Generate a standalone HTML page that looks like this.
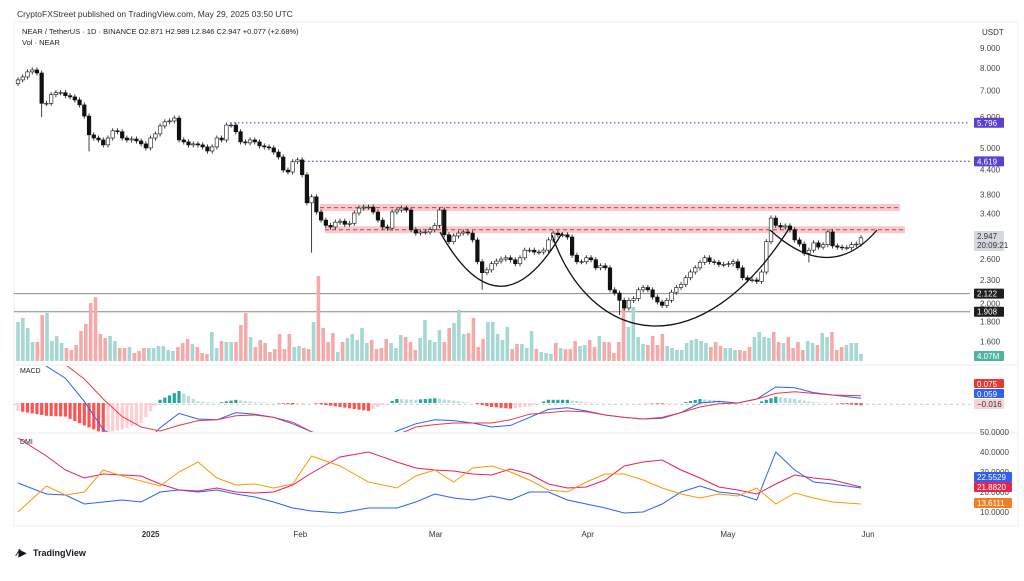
<!DOCTYPE html>
<html><head><meta charset="utf-8"><style>
body{margin:0;background:#fff;font-family:"Liberation Sans",sans-serif;}
svg text{font-family:"Liberation Sans",sans-serif;}
</style></head><body>
<svg id="c" width="1024" height="576" viewBox="0 0 1024 576">
<rect width="1024" height="576" fill="#fff"/>
<rect x="14" y="22" width="1004" height="504" fill="none" stroke="#eceef2" stroke-width="1"/>
<line x1="14" y1="365" x2="1018" y2="365" stroke="#eceef2"/>
<line x1="14" y1="433" x2="1018" y2="433" stroke="#eceef2"/>
<text x="17" y="17" font-size="8.5" fill="#333">CryptoFXStreet published on TradingView.com, May 29, 2025 03:50 UTC</text>
<text x="22" y="34" font-size="7.5" fill="#222">NEAR / TetherUS · 1D · BINANCE  O2.871  H2.989  L2.846  C2.947  +0.077 (+2.68%)</text>
<text x="22" y="45" font-size="7.5" fill="#222">Vol · NEAR</text>
<text x="982" y="35" font-size="8" fill="#333">USDT</text>
<text x="20" y="373" font-size="7" fill="#222">MACD</text>
<text x="20" y="444" font-size="7" fill="#222">DMI</text>
<g id="xaxis"></g>
<g id="yaxis"></g>
<g id="levels"></g>
<g id="vol"></g>
<g id="candles"></g>
<g id="arcs">
<path d="M440,232 Q500,340 562,233" fill="none" stroke="#111" stroke-width="1.3"/>
<path d="M552,235 C590,345 700,370 790,227" fill="none" stroke="#111" stroke-width="1.3"/>
<path d="M770,230 Q830,285 877,230" fill="none" stroke="#111" stroke-width="1.3"/>
</g>
<defs>
<clipPath id="mclip"><rect x="14" y="366" width="956" height="66"/></clipPath>
<clipPath id="dclip"><rect x="14" y="434" width="956" height="91"/></clipPath>
</defs>
<g id="macd" clip-path="url(#mclip)"></g>
<g id="dmi" clip-path="url(#dclip)"></g>
<g id="labels"></g>
<g>
<text x="17" y="556" font-size="10" font-weight="bold" fill="#131722">⁄▶</text>
<text x="33" y="556" font-size="9" font-weight="bold" fill="#131722">TradingView</text>
</g>
</svg>
<script>
const closes=[7.46,7.59,7.82,7.91,7.77,6.50,6.50,6.84,6.92,6.92,6.80,6.75,6.63,6.44,6.03,5.40,5.30,5.24,5.09,5.30,5.53,5.50,5.30,5.24,5.27,5.21,5.12,5.00,5.30,5.43,5.69,5.83,5.86,5.96,5.24,5.18,5.09,5.12,5.09,5.03,4.91,5.03,5.30,5.24,5.72,5.72,5.50,
5.18,5.15,5.24,5.18,5.06,5.03,5.00,4.88,4.74,4.39,4.34,4.61,4.66,4.27,3.62,3.75,3.43,3.27,3.17,3.14,3.23,3.25,3.19,3.21,3.41,3.51,3.53,3.53,3.43,3.27,3.14,3.12,3.43,3.47,3.51,3.47,3.09,3.03,3.05,3.05,3.09,3.17,3.47,3.00,2.88,2.98,3.03,
3.05,3.03,2.91,2.56,2.40,2.44,2.53,2.57,2.60,2.62,2.59,2.53,2.62,2.74,2.74,2.71,2.71,2.74,2.91,3.03,3.00,3.00,2.96,2.66,2.56,2.56,2.62,2.59,2.47,2.50,2.47,2.17,2.13,2.04,1.95,2.04,2.06,2.17,2.20,2.17,2.08,2.02,1.98,2.04,2.14,2.20,2.24,
2.33,2.41,2.47,2.55,2.62,2.56,2.55,2.52,2.52,2.53,2.56,2.47,2.33,2.30,2.30,2.28,2.41,2.88,3.31,3.17,3.14,3.16,3.09,2.91,2.84,2.69,2.74,2.86,2.79,2.83,3.05,2.81,2.79,2.78,2.78,2.83,2.84,2.947];
const firstOpen=7.30;
const lowDays=[5,15,62,98,127,167];
const lowValues=[6.0,4.9,2.70,2.17,1.87,2.55];
const volumes=[39,43,33,19,19,46,48,20,25,18,13,11,16,30,37,58,64,27,23,25,20,13,13,14,8,10,13,13,13,15,15,11,10,14,18,22,17,14,8,7,29,13,20,19,19,19,36,48,24,14,21,18,9,12,27,12,27,14,15,13,12,39,85,33,19,28,9,19,23,27,21,33,18,21,12,13,22,18,13,26,24,19,11,23,41,21,19,31,19,33,38,51,
27,28,43,14,22,39,39,27,21,34,12,17,17,13,30,12,9,8,7,18,13,12,12,20,15,16,21,14,25,19,19,8,19,54,34,54,24,17,16,25,16,27,15,13,11,11,18,21,22,20,18,14,19,15,13,13,11,11,10,14,24,29,24,23,29,19,18,24,13,19,11,20,18,16,28,24,29,11,14,16,18,18,7];
const ptDays=[0,6,10,14,18,22,26,30,34,38,42,46,50,54,58,62,68,74,80,84,88,92,96,100,104,108,112,116,120,124,128,132,136,140,144,148,152,156,160,164,168,172,178];
const macdLine=[0.7,0.46,0.31,0.02,-0.33,-0.5,-0.55,-0.31,-0.13,-0.2,-0.21,-0.12,-0.14,-0.18,-0.26,-0.36,-0.5,-0.55,-0.35,-0.26,-0.21,-0.22,-0.25,-0.3,-0.28,-0.18,-0.08,-0.06,-0.1,-0.15,-0.18,-0.2,-0.19,-0.12,0.0,0.02,0.0,0.05,0.2,0.19,0.13,0.1,0.06];
const signalLine=[0.8,0.62,0.48,0.3,0.05,-0.17,-0.3,-0.35,-0.28,-0.22,-0.21,-0.16,-0.15,-0.18,-0.24,-0.36,-0.45,-0.45,-0.4,-0.3,-0.27,-0.25,-0.25,-0.25,-0.21,-0.14,-0.12,-0.1,-0.11,-0.15,-0.18,-0.2,-0.18,-0.12,-0.05,-0.01,0.0,0.05,0.12,0.14,0.12,0.1,0.09];
const adx=[47,38,31,27,29,28.5,28,24,21,20.5,22,20,19.5,20,23.5,29.5,37.5,40,35,32,31,30.5,29,28.5,31.5,29,24,22,22.5,26,33,35,36,31,27,22.5,21,19,24,28.5,27,26,22.5];
const diMinus=[10,23,18.5,20,31,28,25.5,23,30,35,27,23.5,24,22,24,38,33,25,22,28,31,25,32,33,30,26,21,20,25,29,29,26,22,19,17,19,18,22,14,19.5,17,15,14];
const diPlus=[24.5,19,18.5,14,15,16,15,20,21,20,21,19,17.5,15,12,10.5,9.5,12,12,15,19,17,16,18,16,20,20,16,14,12,9.5,10,14,20,23,20,19,16,40,31,25,24,22];
const priceTicks=[9,8,7,6,5,4.4,3.8,3.4,2.6,2.3,2.0,1.8,1.6];
const dmiTicks=[50,40,30,20,10];
const monthLabels=["2025","Feb","Mar","Apr","May","Jun"];
const monthDays=[28,59.6,88.2,120.3,149.9,179.5];

const NS="http://www.w3.org/2000/svg";
function mk(tag,attrs,parent){const e=document.createElementNS(NS,tag);for(const k in attrs)e.setAttribute(k,attrs[k]);parent.appendChild(e);return e;}
const n=closes.length;
const X0=18,X1=861;
const step=(X1-X0)/(n-1);
const xAt=i=>X0+i*step;
const yP=p=>48+(Math.log(9)-Math.log(p))*170;
const yM=v=>403-v*80;
const yD=v=>532-v*2;

const ya=document.getElementById('yaxis');
priceTicks.forEach(t=>{const e=mk('text',{x:980,y:yP(t)+3,'font-size':8,fill:'#444'},ya);e.textContent=t.toFixed(3);

});
dmiTicks.forEach(t=>{const e=mk('text',{x:980,y:yD(t)+3,'font-size':8,fill:'#444'},ya);e.textContent=t.toFixed(4);

});
const xa=document.getElementById('xaxis');
monthLabels.forEach((m,k)=>{const xd=X0+monthDays[k]*step;const e=mk('text',{x:xd,y:537,'font-size':8,fill:'#333','text-anchor':'middle','font-weight':k==0?'bold':'normal'},xa);e.textContent=m;

});

const lv=document.getElementById('levels');
function hl(y,x1,x2,st,dash,w,name){const e=mk('line',{x1:x1,y1:y,x2:x2,y2:y,stroke:st,'stroke-width':w||1},lv);if(dash)e.setAttribute('stroke-dasharray',dash);

}
hl(yP(5.796),230,970,'#6a4bd6','1.5,2.5',1.2,'resistance-line-5796');
hl(yP(4.619),300,970,'#6a4bd6','1.5,2.5',1.2,'resistance-line-4619');
[[3.52,320,900],[3.09,325,905]].forEach((b,k)=>{const y=yP(b[0]);const r=mk('rect',{x:b[1],y:y-3.5,width:b[2]-b[1],height:7,fill:'#f7c9cc'},lv);


hl(y,b[1],b[2],'#c0444d','4,3',1,'zone-midline');});
hl(yP(2.122),14,970,'#888',null,1,'support-line-2122');
hl(yP(1.908),14,970,'#888',null,1,'support-line-1908');
hl(yM(-0.016),14,970,'#bbb','3,3',0.8,'macd-zero-line');

const cg=document.getElementById('candles');
const opens=closes.map((c,i)=>i==0?firstOpen:closes[i-1]);
for(let i=0;i<n;i++){
 const o=opens[i],c=closes[i];let hi=Math.max(o,c)*1.015,lo=Math.min(o,c)*0.985;
 const li=lowDays.indexOf(i);if(li>=0)lo=lowValues[li];
 const x=xAt(i),up=c>=o;
 const w=mk('line',{x1:x,x2:x,y1:yP(hi),y2:yP(lo),stroke:'#111','stroke-width':0.8},cg);
 
 
 const yt=yP(Math.max(o,c)),yb=yP(Math.min(o,c));
 const b=mk('rect',{x:x-1.8,y:yt,width:3.6,height:Math.max(0.8,yb-yt),fill:up?'#fff':'#111',stroke:'#111','stroke-width':0.6},cg);
 
 
}
const vg=document.getElementById('vol');
const nv=volumes.length,vstep=(X1-X0)/(nv-1);
for(let j=0;j<nv;j++){
 const ci=Math.min(n-1,Math.round(j*(n-1)/(nv-1)));const up=closes[ci]>=opens[ci];
 const h=volumes[j];const r=mk('rect',{x:X0+j*vstep-1.8,y:361-h,width:3.6,height:h,fill:up?'#a5d8d3':'#f4aaa9'},vg);
 
 
}
function interp(arr,i){for(let k=0;k<ptDays.length-1;k++){if(i<=ptDays[k+1]){const t=(i-ptDays[k])/(ptDays[k+1]-ptDays[k]);return arr[k]+t*(arr[k+1]-arr[k]);}}return arr[arr.length-1];}
const mg=document.getElementById('macd');
let prevH=null;
for(let i=0;i<n;i++){
 const h=interp(macdLine,i)-interp(signalLine,i);
 const rising=prevH===null?true:h>=prevH;prevH=h;
 const col=h>=0?(rising?'#26a69a':'#b2dfdb'):(rising?'#ffcdd2':'#ff5252');
 const y0=yM(0),y1=yM(h);
 const r=mk('rect',{x:xAt(i)-1.6,y:Math.min(y0,y1),width:3.2,height:Math.abs(y1-y0),fill:col},mg);
 
 
}
function poly(g,arr,yf,col,name){const pts=ptDays.map((d,k)=>xAt(d).toFixed(1)+','+yf(arr[k]).toFixed(1)).join(' ');
 const p=mk('polyline',{points:pts,fill:'none',stroke:col,'stroke-width':1},g);
 
 }
poly(mg,macdLine,yM,'#2962ff','macd-line');
poly(mg,signalLine,yM,'#f23645','signal-line');
const dg=document.getElementById('dmi');
poly(dg,diPlus,yD,'#2962ff','di-plus-line');
poly(dg,adx,yD,'#e91e63','adx-line');
poly(dg,diMinus,yD,'#ff9800','di-minus-line');

const lg=document.getElementById('labels');
function badge(y,h,bg,fg,lines,name){const r=mk('rect',{x:974,y:y,width:lines[0].length>6?38:30,height:h,fill:bg,rx:1},lg);
 
 
 lines.forEach((t,k)=>{const e=mk('text',{x:977,y:y+8+k*9,'font-size':8,fill:fg},lg);e.textContent=t;
 
 });}
badge(yP(5.796)-5,10,'#5b3fd0','#fff',['5.796'],'badge-5796');
badge(yP(4.619)-5,10,'#5b3fd0','#fff',['4.619'],'badge-4619');
badge(231,20,'#d5d8df','#333',['2.947','20:09:21'],'badge-last-price');
badge(yP(2.122)-5,10,'#1e1e1e','#fff',['2.122'],'badge-2122');
badge(yP(1.908)-5,10,'#1e1e1e','#fff',['1.908'],'badge-1908');
badge(351,10,'#4fb3a4','#fff',['4.07M'],'badge-volume');
badge(379,9,'#e53935','#fff',['0.075'],'badge-signal');
badge(389,9,'#2f5ff5','#fff',['0.059'],'badge-macd');
badge(399,10,'#f6d3d6','#333',['−0.016'],'badge-histogram');
badge(472,10,'#2f5ff5','#fff',['22.5529'],'badge-di-plus');
badge(482,10,'#e0274f','#fff',['21.8820'],'badge-adx');
badge(498,10,'#f07f22','#fff',['13.6111'],'badge-di-minus');
</script>
</body></html>
